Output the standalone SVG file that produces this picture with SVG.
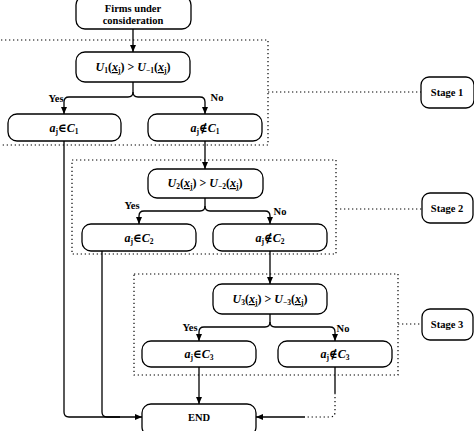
<svg xmlns="http://www.w3.org/2000/svg" width="474" height="431" viewBox="0 0 474 431">
<defs>
<marker id="arr" markerWidth="7" markerHeight="6" refX="7" refY="3" orient="auto" markerUnits="userSpaceOnUse">
<path d="M0,0 L7,3 L0,6 Z" fill="#000"/>
</marker>
<style>
.box{fill:#fff;stroke:#000;stroke-width:1.3}
.ln{fill:none;stroke:#000;stroke-width:1.3}
.dot{fill:none;stroke:#000;stroke-width:1.2;stroke-dasharray:1.3 2.7}
.t{font-family:"Liberation Serif","Times New Roman",serif;font-size:10.5px;font-weight:bold;fill:#000;text-anchor:middle}
.m{font-family:"Liberation Serif","DejaVu Serif",serif;font-size:12px;font-weight:bold;font-style:italic;fill:#000;text-anchor:middle}
.s{font-size:7.5px;font-style:normal}
.n{font-style:normal}
.u{text-decoration:underline}
</style>
</defs>
<rect class="dot" x="-3" y="40" width="271" height="105"/>
<rect class="dot" x="72" y="160" width="264" height="94"/>
<rect class="dot" x="134" y="274" width="264" height="101"/>
<g id="connectors">
<path class="ln" d="M133,29 V52" marker-end="url(#arr)"/>
<path class="ln" d="M133,82 V92 Q133,97 128,97 H69 Q64,97 64,102 V114" marker-end="url(#arr)"/>
<path class="ln" d="M133,92 Q133,97 138,97 H200 Q205,97 205,102 V114" marker-end="url(#arr)"/>
<path class="ln" d="M205,141 V169" marker-end="url(#arr)"/>
<path class="ln" d="M205,198 V206 Q205,211 200,211 H144 Q139,211 139,216 V224" marker-end="url(#arr)"/>
<path class="ln" d="M205,206 Q205,211 210,211 H265 Q270,211 270,216 V224" marker-end="url(#arr)"/>
<path class="ln" d="M270,251 V284" marker-end="url(#arr)"/>
<path class="ln" d="M270,314 V322 Q270,327 265,327 H204 Q199,327 199,332 V341" marker-end="url(#arr)"/>
<path class="ln" d="M270,322 Q270,327 275,327 H330 Q335,327 335,332 V341" marker-end="url(#arr)"/>
<path class="ln" d="M199,367 V404" marker-end="url(#arr)"/>
<path class="ln" d="M64,141 V412 Q64,417 69,417 H142" marker-end="url(#arr)"/>
<path class="ln" d="M102,251 V412 Q102,417 107,417 H120"/>
<path class="ln" d="M335,367 V393"/>
<path class="dot" d="M335,393 V412 Q335,417 330,417 H305"/>
<path class="ln" d="M305,417 H256" marker-end="url(#arr)"/>
<path class="dot" d="M268,92 H422"/>
<path class="dot" d="M336,209 H422"/>
<path class="dot" d="M398,324 H422"/>
</g>
<g id="start"><rect class="box" x="76" y="-4" width="115" height="33" rx="9"/>
<text class="t" x="133" y="12">Firms under</text><text class="t" x="133" y="24">consideration</text></g>
<g id="u1"><rect class="box" x="76" y="52" width="114" height="30" rx="9"/>
<text class="m" x="133" y="71">U<tspan class="s" dy="2">1</tspan><tspan class="n" dy="-2">(</tspan><tspan class="u">x<tspan class="s" dy="2">j</tspan></tspan><tspan class="n" dy="-2">) &gt; </tspan>U<tspan class="s" dy="2">−1</tspan><tspan class="n" dy="-2">(</tspan><tspan class="u">x<tspan class="s" dy="2">j</tspan></tspan><tspan class="n" dy="-2">)</tspan></text></g>
<g id="in1"><rect class="box" x="8" y="114" width="113" height="27" rx="9"/>
<text class="m" x="64" y="132">a<tspan class="s" dy="2">j</tspan><tspan class="n" dy="-2">∈</tspan>C<tspan class="s" dy="2">1</tspan></text></g>
<g id="out1"><rect class="box" x="148" y="114" width="114" height="27" rx="9"/>
<text class="m" x="205" y="132">a<tspan class="s" dy="2">j</tspan><tspan class="n" dy="-2">∉</tspan>C<tspan class="s" dy="2">1</tspan></text></g>
<g id="u2"><rect class="box" x="148" y="169" width="115" height="29" rx="9"/>
<text class="m" x="205" y="187">U<tspan class="s" dy="2">2</tspan><tspan class="n" dy="-2">(</tspan><tspan class="u">x<tspan class="s" dy="2">j</tspan></tspan><tspan class="n" dy="-2">) &gt; </tspan>U<tspan class="s" dy="2">−2</tspan><tspan class="n" dy="-2">(</tspan><tspan class="u">x<tspan class="s" dy="2">j</tspan></tspan><tspan class="n" dy="-2">)</tspan></text></g>
<g id="in2"><rect class="box" x="82" y="224" width="114" height="27" rx="9"/>
<text class="m" x="139" y="242">a<tspan class="s" dy="2">j</tspan><tspan class="n" dy="-2">∈</tspan>C<tspan class="s" dy="2">2</tspan></text></g>
<g id="out2"><rect class="box" x="213" y="224" width="114" height="27" rx="9"/>
<text class="m" x="270" y="242">a<tspan class="s" dy="2">j</tspan><tspan class="n" dy="-2">∉</tspan>C<tspan class="s" dy="2">2</tspan></text></g>
<g id="u3"><rect class="box" x="213" y="284" width="114" height="30" rx="9"/>
<text class="m" x="270" y="303">U<tspan class="s" dy="2">3</tspan><tspan class="n" dy="-2">(</tspan><tspan class="u">x<tspan class="s" dy="2">j</tspan></tspan><tspan class="n" dy="-2">) &gt; </tspan>U<tspan class="s" dy="2">−3</tspan><tspan class="n" dy="-2">(</tspan><tspan class="u">x<tspan class="s" dy="2">j</tspan></tspan><tspan class="n" dy="-2">)</tspan></text></g>
<g id="in3"><rect class="box" x="142" y="341" width="114" height="26" rx="9"/>
<text class="m" x="199" y="358">a<tspan class="s" dy="2">j</tspan><tspan class="n" dy="-2">∈</tspan>C<tspan class="s" dy="2">3</tspan></text></g>
<g id="out3"><rect class="box" x="278" y="341" width="114" height="26" rx="9"/>
<text class="m" x="335" y="358">a<tspan class="s" dy="2">j</tspan><tspan class="n" dy="-2">∉</tspan>C<tspan class="s" dy="2">3</tspan></text></g>
<g id="end"><rect class="box" x="142" y="404" width="114" height="32" rx="9"/>
<text class="t" x="199" y="421">END</text></g>
<g id="stage1"><rect class="box" x="421" y="77" width="53" height="31" rx="8"/><text class="t" x="447" y="96">Stage 1</text></g>
<g id="stage2"><rect class="box" x="422" y="193" width="51" height="30" rx="8"/><text class="t" x="447" y="212">Stage 2</text></g>
<g id="stage3"><rect class="box" x="422" y="309" width="51" height="31" rx="8"/><text class="t" x="447" y="328">Stage 3</text></g>
<g id="labels">
<text class="t" x="56" y="102">Yes</text><text class="t" x="217" y="101">No</text>
<text class="t" x="132" y="209">Yes</text><text class="t" x="280" y="215">No</text>
<text class="t" x="190" y="331">Yes</text><text class="t" x="343" y="332">No</text>
</g>
</svg>
